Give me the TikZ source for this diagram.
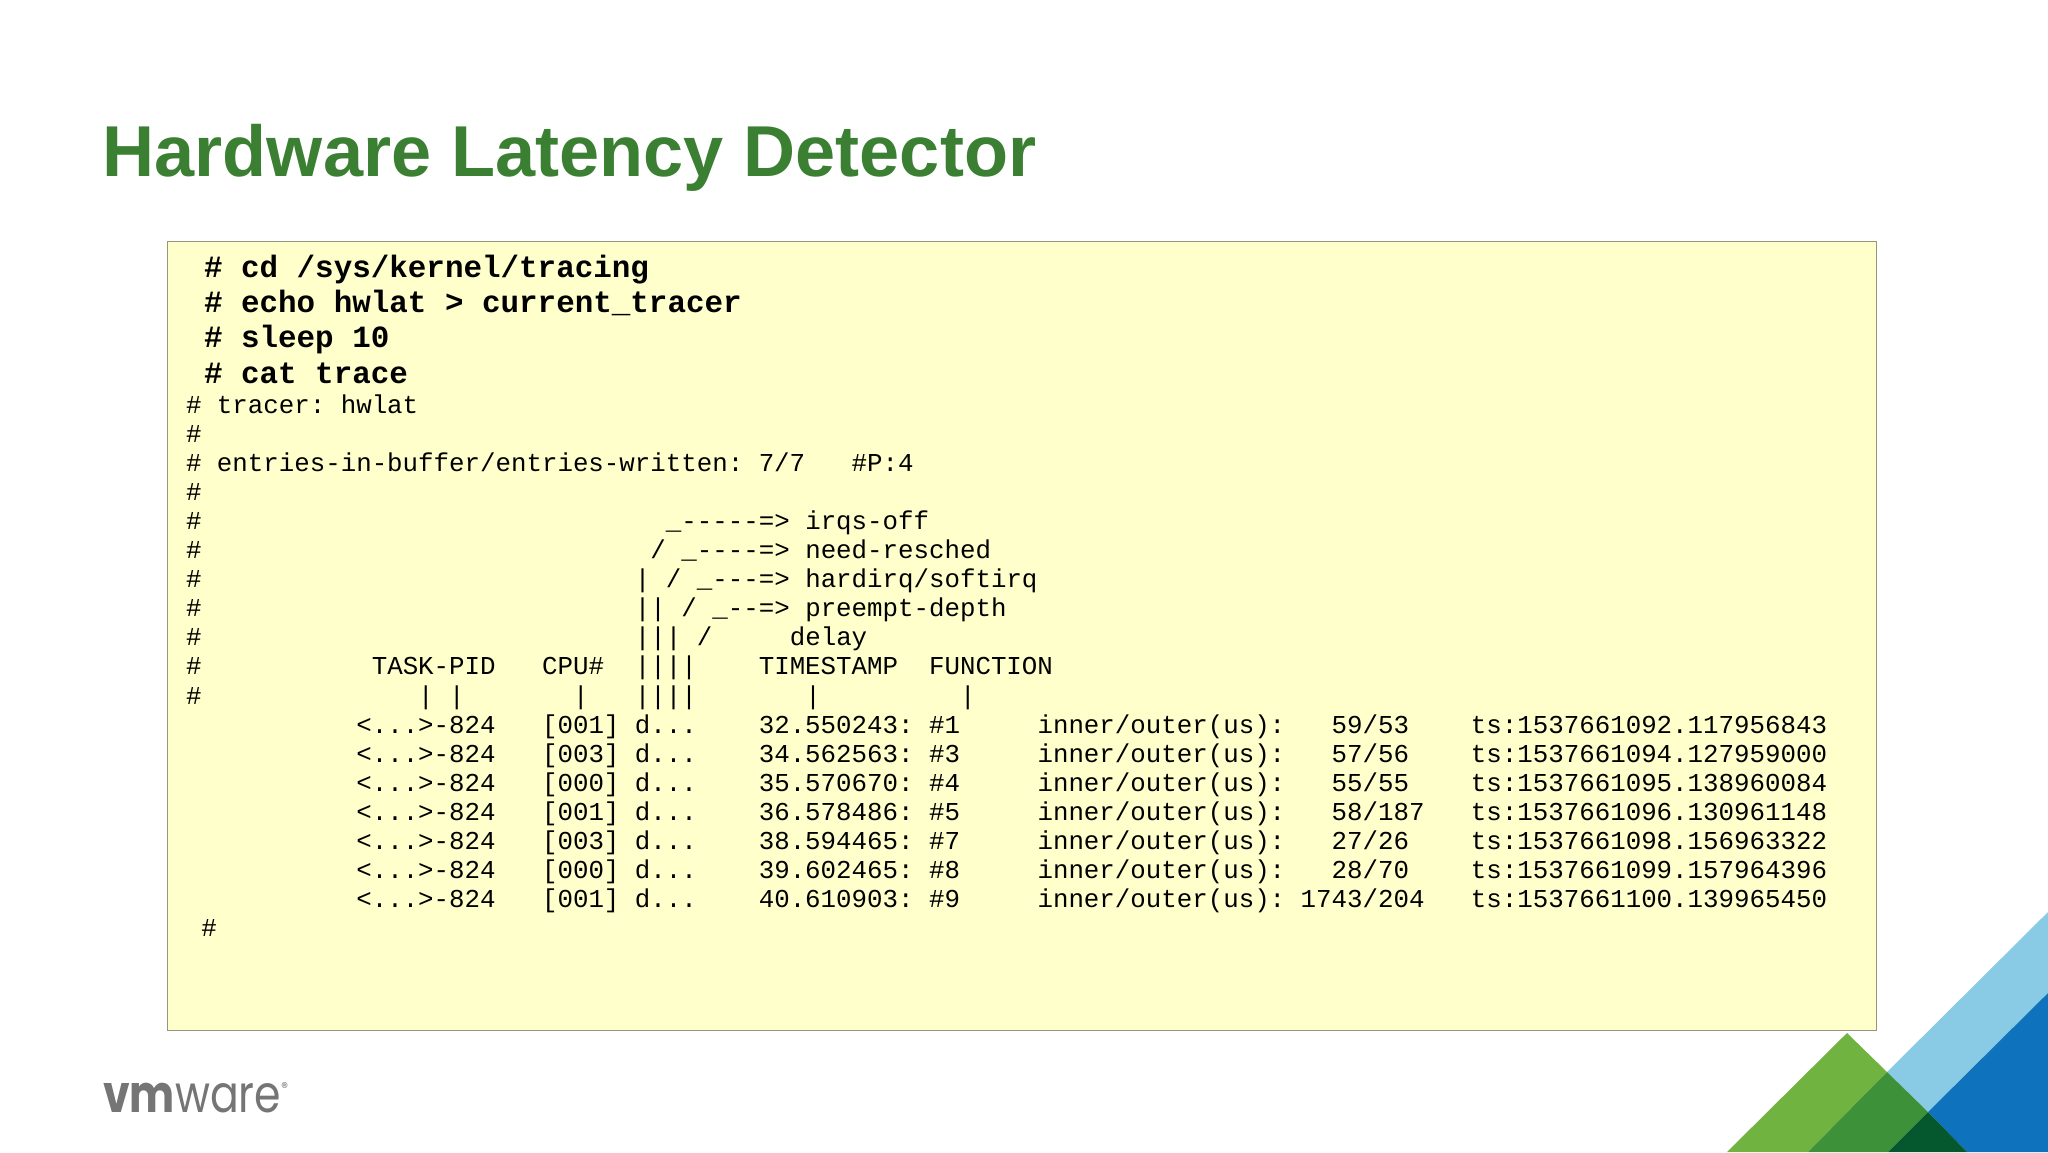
\documentclass[tikz,border=0pt]{standalone}
\usepackage{fontspec}
\usepackage{tikz}
\usetikzlibrary{positioning}
\setmainfont{Liberation Sans}
\newfontfamily\logfont{Liberation Mono}
\newfontfamily\vmfont{Poppins}
\definecolor{titlegreen}{HTML}{3B7F32}
\definecolor{panelfill}{HTML}{FFFFCC}
\definecolor{paneledge}{HTML}{96967F}
\definecolor{logogrey}{HTML}{757575}
\definecolor{leafgreen}{HTML}{71B340}
\definecolor{midgreen}{HTML}{3D9139}
\definecolor{deepgreen}{HTML}{05582E}
\definecolor{skyblue}{HTML}{89CBE4}
\definecolor{seablue}{HTML}{0E72BC}
\tikzset{
  panel/.style={draw=paneledge,line width=0.9pt,fill=panelfill,inner sep=0pt,outer sep=0pt,anchor=north west,minimum width=1709pt,minimum height=789pt},
  cmdline/.style={inner sep=0pt,outer sep=0pt,anchor=north west,text height=26pt,text depth=9.4pt,font={\logfont\bfseries\fontsize{30.9}{35}\selectfont\frenchspacing\obeyspaces}},
  logline/.style={inner sep=0pt,outer sep=0pt,anchor=north west,text height=20pt,text depth=9.1pt,font={\logfont\fontsize{25.8}{29}\selectfont\frenchspacing\obeyspaces}},
  under/.style={below=0pt of #1.south west,anchor=north west}
}
\begin{document}
\begin{tikzpicture}[x=1pt,y=-1pt]
  \useasboundingbox (0,0) rectangle (2048,1152);
  \fill[skyblue] (1887,1072) -- (2048,912) -- (2048,993) -- (1928,1112) -- cycle;
  \fill[seablue] (1928,1112) -- (2048,993) -- (2048,1152) -- (1967,1152) -- cycle;
  \fill[leafgreen] (1727,1152) -- (1847,1033) -- (1887,1072) -- (1808,1152) -- cycle;
  \fill[midgreen] (1808,1152) -- (1887,1072) -- (1928,1112) -- (1888,1152) -- cycle;
  \fill[deepgreen] (1888,1152) -- (1928,1112) -- (1967,1152) -- cycle;

  \node[anchor=base west,inner sep=0pt,text=titlegreen,font=\bfseries\fontsize{72.1}{80}\selectfont] (title) at (102.5,176) {Hardware Latency Detector};
  \node[panel] (panel) at (167.5,241.5) {};

  \node[cmdline] (cmd1) at (204,251) {\# cd /sys/kernel/tracing};
  \node[cmdline,under=cmd1] (cmd2) {\# echo hwlat > current\_tracer};
  \node[cmdline,under=cmd2] (cmd3) {\# sleep 10};
  \node[cmdline,under=cmd3] (cmd4) {\# cat trace};

  \node[logline] (log1) at (186,393) {\# tracer: hwlat};
  \node[logline,under=log1] (log2) {\#};
  \node[logline,under=log2] (log3) {\# entries-in-buffer/entries-written: 7/7   \#P:4};
  \node[logline,under=log3] (log4) {\#};
  \node[logline,under=log4] (log5) {\#                              \_-----=> irqs-off};
  \node[logline,under=log5] (log6) {\#                             / \_----=> need-resched};
  \node[logline,under=log6] (log7) {\#                            | / \_---=> hardirq/softirq};
  \node[logline,under=log7] (log8) {\#                            || / \_--=> preempt-depth};
  \node[logline,under=log8] (log9) {\#                            ||| /     delay};
  \node[logline,under=log9] (log10) {\#           TASK-PID   CPU\#  ||||    TIMESTAMP  FUNCTION};
  \node[logline,under=log10] (log11) {\#              | |       |   ||||       |         |};
  \node[logline,under=log11] (log12) {\null           <...>-824   [001] d...    32.550243: \#1     inner/outer(us):   59/53    ts:1537661092.117956843};
  \node[logline,under=log12] (log13) {\null           <...>-824   [003] d...    34.562563: \#3     inner/outer(us):   57/56    ts:1537661094.127959000};
  \node[logline,under=log13] (log14) {\null           <...>-824   [000] d...    35.570670: \#4     inner/outer(us):   55/55    ts:1537661095.138960084};
  \node[logline,under=log14] (log15) {\null           <...>-824   [001] d...    36.578486: \#5     inner/outer(us):   58/187   ts:1537661096.130961148};
  \node[logline,under=log15] (log16) {\null           <...>-824   [003] d...    38.594465: \#7     inner/outer(us):   27/26    ts:1537661098.156963322};
  \node[logline,under=log16] (log17) {\null           <...>-824   [000] d...    39.602465: \#8     inner/outer(us):   28/70    ts:1537661099.157964396};
  \node[logline,under=log17] (log18) {\null           <...>-824   [001] d...    40.610903: \#9     inner/outer(us): 1743/204   ts:1537661100.139965450};
  \node[logline,under=log18] (log19) {\null \#};

  \node[anchor=base west,inner sep=0pt,text=logogrey,font={\vmfont\fontsize{52}{56}\selectfont}] (vmlogo) at (103,1112) {\scalebox{0.82}[1]{\textbf{vm}ware}\raisebox{20pt}{\fontsize{14}{14}\selectfont ®}};
\end{tikzpicture}
\end{document}
